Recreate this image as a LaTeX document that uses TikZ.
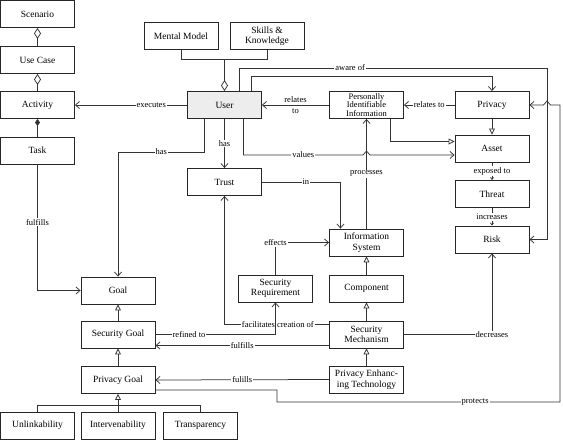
\documentclass[tikz,border=0pt]{standalone}
\usepackage{fontspec}
\setmainfont{Liberation Serif}
\usetikzlibrary{arrows.meta,calc}
\newcommand{\bxfont}{\rmfamily\fontsize{9.5}{10.5}\selectfont}
\newcommand{\lbfont}{\rmfamily\fontsize{8.5}{9.5}\selectfont}
\begin{document}
\begin{tikzpicture}[x=1pt,y=-1pt,
  box/.style={draw=black!85, line width=0.9pt, minimum width=74pt, minimum height=27pt, inner sep=1pt, align=center, font=\bxfont},
  lab/.style={fill=white, inner sep=1pt, font=\lbfont},
  con/.style={draw=black!80, line width=0.75pt},
  arr/.style={con, -{Straight Barb[length=4pt,width=7pt]}},
  sarr/.style={con, -{Straight Barb[length=2pt,width=3pt]}},
  gen/.style={con, -{Triangle[open,length=6pt,width=6pt]}},
  agg/.style={con, -{Diamond[open,length=11pt,width=7pt]}},
  compo/.style={con, -{Diamond[length=7pt,width=5pt]}}]
\useasboundingbox (0,0) rectangle (563,440);
% nodes
\node[box] (scenario) at (37.5,14) {Scenario};
\node[box] (usecase) at (37.5,60) {Use Case};
\node[box] (activity) at (37.5,105) {Activity};
\node[box] (task) at (37.5,150.5) {Task};
\node[box] (mental) at (181,36) {Mental Model};
\node[box] (skills) at (267,36) {Skills \&\\Knowledge};
\node[box, fill=black!7] (user) at (224.5,105) {User};
\node[box] (trust) at (224.5,182) {Trust};
\node[box, font=\rmfamily\fontsize{8.5}{8.5}\selectfont] (pii) at (366.5,105) {Personally\\Identifiable\\Information};
\node[box] (privacy) at (492,105) {Privacy};
\node[box] (asset) at (492,148.5) {Asset};
\node[box] (threat) at (492,194) {Threat};
\node[box] (risk) at (492,239.5) {Risk};
\node[box] (is) at (366.5,242.5) {Information\\System};
\node[box] (secreq) at (275.5,288.5) {Security\\Requirement};
\node[box] (component) at (366.5,288.5) {Component};
\node[box] (goal) at (118,290.5) {Goal};
\node[box] (secgoal) at (118,334.5) {Security Goal};
\node[box] (privgoal) at (118,380) {Privacy Goal};
\node[box] (sm) at (366.5,334.5) {Security\\Mechanism};
\node[box] (pet) at (366.5,379.5) {Privacy Enhanc-\\ing Technology};
\node[box] (unlink) at (37.5,425.5) {Unlinkability};
\node[box] (interv) at (118,425.5) {Intervenability};
\node[box] (transp) at (200.5,425.5) {Transparency};
% left column
\draw[agg] (usecase) -- (scenario);
\draw[agg] (activity) -- (usecase);
\draw[compo] (task) -- (activity);
\draw[arr] (task.south) |- node[lab,pos=0.23]{fulfills} (goal.west);
% user parts
\coordinate (mj) at (224.5,59);
\draw[con] (mental.south) |- (mj);
\draw[con] (skills.south) |- (mj);
\draw[agg] (mj) -- (user.north);
% user relations
\draw[arr] (user.west) -- node[lab,pos=0.32]{executes} (activity.east);
\draw[arr] ([xshift=-20pt]user.south) -- ++(0,33) -| coordinate[pos=0.25] (hasm) (goal.north);
\node[lab] at (hasm) {has};
\draw[arr] (user.south) -- node[lab]{has} (trust.north);
\draw[arr] ([xshift=19pt]user.south) -- (243.5,155) -- node[lab]{values} (363,155) -- (366.5,151) -- (370,155) -- ([yshift=-6.5pt]asset.west);
\draw[arr] ([xshift=27pt]user.north) -- ++(0,-15) -| (privacy.north);
\draw[arr] ([xshift=15pt]user.north) |- node[lab,pos=0.68]{aware of} (547,68) |- (risk.east);
\draw[arr] (pii.west) -- node[font=\rmfamily\fontsize{8.5}{11}\selectfont, align=center, inner sep=0pt]{relates\\to} (user.east);
\draw[arr] (privacy.west) -- node[lab]{relates to} (pii.east);
\draw[gen] ([xshift=24pt]pii.south) |- ([yshift=7pt]asset.west);
\draw[gen] (privacy) -- (asset);
\draw[sarr] (asset.south) -- node[lab]{exposed to} (threat.north);
\draw[sarr] (threat.south) -- node[lab]{increases} (risk.north);
% information system
\draw[arr] (is.north) -- node[lab]{processes} (pii.south);
\draw[arr] (trust.east) -| node[lab,pos=0.28]{in} ([xshift=-26pt]is.north);
\draw[arr] (secreq.north) |- node[lab,pos=0.5]{effects} (is.west);
\draw[gen] (component) -- (is);
\draw[gen] (sm) -- (component);
\draw[gen] (pet) -- (sm);
% mechanism relations
\draw[arr] ([yshift=10pt]sm.west) -| node[lab,pos=0.245]{facilitates creation of} (trust.south);
\draw[arr] (secgoal.east) -| node[lab,pos=0.14]{refined to} (secreq.south);
\draw[arr] ([yshift=-11pt]sm.west) -- node[lab]{fulfills} ([yshift=-11pt]secgoal.east);
\draw[arr] (pet.west) -- node[lab]{fulills} (privgoal.east);
\draw[arr] (sm.east) -| node[lab,pos=0.5]{decreases} (risk.south);
\draw[arr] ([yshift=-10pt]privgoal.east) -- (277,390) -- (277,402) -- node[lab,pos=0.7]{protects} (560,402) -- (560,105) -- (550.5,105) -- (547,101) -- (543.5,105) -- (privacy.east);
% goals
\draw[gen] (secgoal) -- (goal);
\draw[gen] (privgoal) -- (secgoal);
\coordinate (pj) at (118,405);
\draw[con] (unlink.north) |- (pj);
\draw[con] (transp.north) |- (pj);
\draw[gen] (interv.north) -- (privgoal.south);
\end{tikzpicture}
\end{document}
